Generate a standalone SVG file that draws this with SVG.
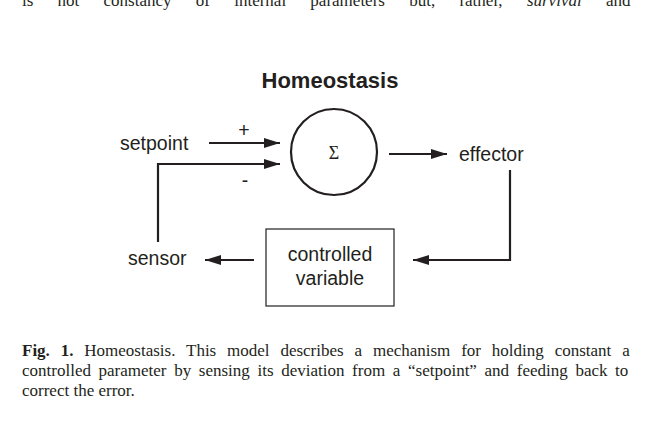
<svg xmlns="http://www.w3.org/2000/svg" width="652" height="441" viewBox="0 0 652 441">
<style>
.s{font-family:"Liberation Sans",Arial,sans-serif;font-size:19.5px;fill:#231f20}
.c{font-family:"Liberation Serif","Times New Roman",serif;font-size:17px;fill:#231f20}
.l{stroke:#231f20;stroke-width:2.2;fill:none}
</style>
<defs><marker id="b" markerWidth="16" markerHeight="10" refX="16" refY="5" orient="auto" markerUnits="userSpaceOnUse"><path d="M0,0L16,5L0,10Z" fill="#231f20"/></marker></defs>
<rect width="652" height="441" fill="#fff"/>
<text class="c" x="22" y="6" word-spacing="20">is not constancy of internal parameters but, rather, <tspan font-style="italic">survival</tspan> and</text>
<text x="330" y="88" text-anchor="middle" style="font-family:'Liberation Sans',Arial,sans-serif;font-size:22px;font-weight:bold;fill:#231f20">Homeostasis</text>
<g id="setpoint"><text class="s" x="120" y="150">setpoint</text></g>
<g id="sum"><circle cx="334" cy="152" r="43" class="l"/><text x="334" y="159" text-anchor="middle" style="font-family:'Liberation Serif',serif;font-size:18px;fill:#231f20">Σ</text></g>
<g id="effector"><text class="s" x="459" y="161">effector</text></g>
<g id="variable"><rect x="266" y="229" width="128" height="77" style="stroke:#231f20;stroke-width:1.2;fill:none"/><text class="s" x="330" y="261" text-anchor="middle">controlled</text><text class="s" x="330" y="285" text-anchor="middle">variable</text></g>
<g id="sensor"><text class="s" x="128" y="265">sensor</text></g>
<g id="connectors">
<path class="l" d="M209,143H280" marker-end="url(#b)"/>
<path class="l" d="M158,242V164H280" marker-end="url(#b)"/>
<path class="l" d="M389,154H447" marker-end="url(#b)"/>
<path class="l" d="M510,170V260H413" marker-end="url(#b)"/>
<path class="l" d="M254,260H205" marker-end="url(#b)"/>
<text class="s" x="244" y="137" text-anchor="middle">+</text>
<text class="s" x="245" y="187" text-anchor="middle">-</text>
</g>
<text class="c" x="22" y="356" word-spacing="6.6"><tspan font-weight="bold">Fig. 1.</tspan> Homeostasis. This model describes a mechanism for holding constant a</text>
<text class="c" x="22" y="376" word-spacing="3.4">controlled parameter by sensing its deviation from a “setpoint” and feeding back to</text>
<text class="c" x="22" y="396">correct the error.</text>
</svg>
